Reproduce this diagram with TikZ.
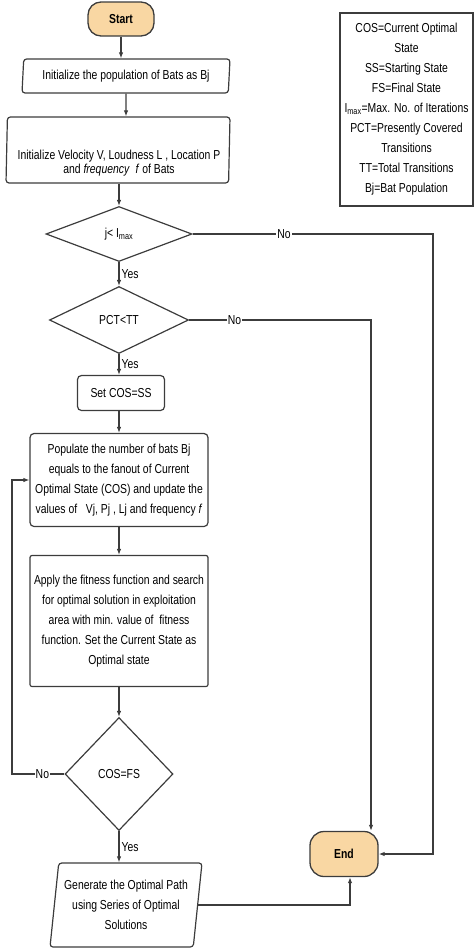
\documentclass[tikz,border=0pt]{standalone}
\usepackage{fontspec}
\setmainfont{Liberation Sans}[FakeStretch=0.8]
\usetikzlibrary{arrows.meta,shapes.geometric}
\definecolor{vonal}{RGB}{60,60,60}
\definecolor{narancs}{RGB}{249,215,163}
\newcommand{\betu}{\fontsize{13}{20}\selectfont}
\tikzset{
  term/.style={draw=vonal,line width=1.3pt,fill=narancs,rounded corners=13pt,font=\betu\bfseries,inner sep=0pt},
  para/.style={trapezium,trapezium left angle=81,trapezium right angle=99,trapezium stretches body=true,
    draw=vonal,line width=1.2pt,rounded corners=3pt,align=center,inner sep=0pt},
  romb/.style={diamond,draw=vonal,line width=1.2pt,inner sep=0pt},
  doboz/.style={draw=vonal,line width=1.2pt,rounded corners=4pt,align=center,inner sep=0pt},
  nyil/.style={-{Latex[length=6pt,width=4.5pt]},line width=1.2pt,draw=vonal},
  igen/.style={right,inner sep=2pt},
  nem/.style={fill=white,inner sep=1pt},
}

\begin{document}
\begin{tikzpicture}[x=1pt,y=-1pt,font=\betu]
  \useasboundingbox (0,0) rectangle (474,948);
  \node[term,minimum width=66pt,minimum height=34pt] (start) at (121,19) {Start};
  \node[para,trapezium left angle=82,trapezium right angle=98,minimum width=208pt,minimum height=34pt] (init1) at (126,76) {Initialize the population of Bats as Bj};
  \node[para,minimum width=224pt,minimum height=66pt] (init2) at (118,150) {\phantom{X}};
  \node[align=center,font=\fontsize{13}{14}\selectfont] (init2txt) at (119,163)
    {Initialize Velocity V, Loudness L , Location P\\and \textit{frequency} \ \textit{f} of Bats};
  \node[romb,minimum width=146pt,minimum height=55pt] (d1) at (119,234) {j< I\textsubscript{max}};
  \node[romb,minimum width=139pt,minimum height=67pt] (d2) at (119,320) {PCT<TT};
  \node[doboz,minimum width=87pt,minimum height=35pt] (set) at (121,393) {Set COS=SS};
  \node[doboz,minimum width=178pt,minimum height=93pt] (pop) at (119,480)
    {Populate the number of bats Bj\\equals to the fanout of Current\\Optimal State (COS) and update the\\values of \ \ Vj, Pj , Lj and frequency \textit{f}};
  \node[doboz,rounded corners=2pt,minimum width=178pt,minimum height=131pt] (apply) at (119,621)
    {Apply the fitness function and search\\for optimal solution in exploitation\\area with min. value of \ fitness\\function. Set the Current State as\\Optimal state};
  \node[romb,minimum width=108pt,minimum height=113pt] (d3) at (119,774) {COS=FS};
  \node[para,trapezium left angle=80,trapezium right angle=100,minimum width=152pt,minimum height=84pt] (gen) at (126,905)
    {Generate the Optimal Path\\using Series of Optimal\\Solutions};
  \node[term,minimum width=68pt,minimum height=45pt,rounded corners=14pt] (end) at (344,854) {End};
  \node[draw=vonal,line width=1.5pt,minimum width=133pt,minimum height=193pt,align=center,inner sep=0pt] (jelmag) at (406.5,109.5)
    {COS=Current Optimal\\State\\SS=Starting State\\FS=Final State\\I\textsubscript{max}=Max. No. of Iterations\\PCT=Presently Covered\\Transitions\\TT=Total Transitions\\Bj=Bat Population};

  \coordinate (k1) at (433,234);
  \coordinate (k2) at (371,320);
  \coordinate (k3) at (12,774);

  \draw[nyil] (start) -- (start |- init1.north);
  \draw[nyil] (init1) -- (init1 |- init2.north);
  \draw[nyil] (d1 |- init2.south) -- (d1);
  \draw[nyil] (d1) -- node[igen] {Yes} (d2);
  \draw[nyil] (d2) -- node[igen] {Yes} (d2 |- set.north);
  \draw[nyil] (d2 |- set.south) -- (pop);
  \draw[nyil] (pop) -- (apply);
  \draw[nyil] (apply) -- (d3);
  \draw[nyil] (d3) -- node[igen] {Yes} (d3 |- gen.north);
  \draw[nyil] (d1) -- node[nem,pos=0.38] {No} (k1) |- (end);
  \draw[nyil] (d2) -- node[nem,pos=0.25] {No} (k2) -- (k2 |- end.north);
  \draw[nyil] (d3) -- node[nem,pos=0.42] {No} (k3) |- (pop);
  \draw[nyil] (gen) -| ([xshift=6pt]end.south);
\end{tikzpicture}
\end{document}
